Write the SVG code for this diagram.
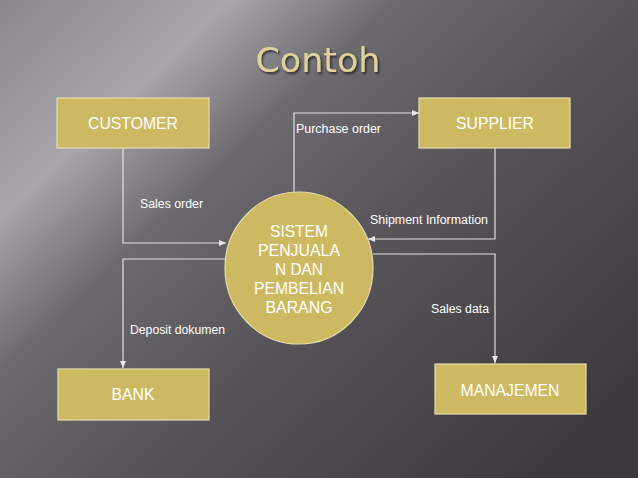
<svg xmlns="http://www.w3.org/2000/svg" width="638" height="478" viewBox="0 0 638 478">
<defs>
<linearGradient id="bg" x1="0" y1="0" x2="1" y2="0.8">
<stop offset="0" stop-color="#8a878d"/>
<stop offset="0.22" stop-color="#a8a5ab"/>
<stop offset="0.38" stop-color="#6c696f"/>
<stop offset="0.6" stop-color="#58555a"/>
<stop offset="1" stop-color="#3c3a3e"/>
</linearGradient>
<marker id="ar" markerWidth="8" markerHeight="8" refX="7" refY="4" orient="auto" markerUnits="userSpaceOnUse">
<path d="M0,1 L7,4 L0,7 z" fill="#e8e8e8"/>
</marker>
<filter id="sh"><feDropShadow dx="1.5" dy="2" stdDeviation="1.2" flood-color="#000" flood-opacity="0.6"/></filter>
</defs>
<style>
.box{fill:#cdb962;stroke:#e6dca8;stroke-width:1.2}
.nt{font-family:"Liberation Sans",Arial,sans-serif;font-size:17px;fill:#ffffff;text-anchor:middle}
.lb{font-family:"Liberation Sans",Arial,sans-serif;font-size:12px;fill:#ffffff}
.cn{fill:none;stroke:#e0e0e0;stroke-width:1.2;marker-end:url(#ar)}
</style>
<rect width="638" height="478" fill="url(#bg)"/>
<text x="318" y="72" font-family="'DejaVu Sans',sans-serif" font-size="33" fill="#ded29a" text-anchor="middle" filter="url(#sh)" textLength="125" lengthAdjust="spacingAndGlyphs">Contoh</text>
<g id="connectors">
<path class="cn" d="M123,148 V243 H226"/>
<path class="cn" d="M294,193 V113 H419"/>
<path class="cn" d="M495,148 V239 H368"/>
<path class="cn" d="M225,259 H123 V368"/>
<path class="cn" d="M373,254 H495 V363"/>
<text class="lb" x="296" y="133" textLength="85" lengthAdjust="spacingAndGlyphs">Purchase order</text>
<text class="lb" x="140" y="208" textLength="63" lengthAdjust="spacingAndGlyphs">Sales order</text>
<text class="lb" x="370" y="224" textLength="118" lengthAdjust="spacingAndGlyphs">Shipment Information</text>
<text class="lb" x="130" y="334" textLength="95" lengthAdjust="spacingAndGlyphs">Deposit dokumen</text>
<text class="lb" x="431" y="313" textLength="58" lengthAdjust="spacingAndGlyphs">Sales data</text>
</g>
<g id="customer"><rect class="box" x="57" y="98" width="152" height="50"/><text class="nt" x="133" y="129" textLength="90" lengthAdjust="spacingAndGlyphs">CUSTOMER</text></g>
<g id="supplier"><rect class="box" x="419" y="98" width="151" height="50"/><text class="nt" x="495" y="129" textLength="78" lengthAdjust="spacingAndGlyphs">SUPPLIER</text></g>
<g id="sistem"><ellipse class="box" cx="299" cy="268" rx="74" ry="76"/>
<text class="nt" x="299" y="237" textLength="58" lengthAdjust="spacingAndGlyphs">SISTEM</text><text class="nt" x="299" y="256" textLength="82" lengthAdjust="spacingAndGlyphs">PENJUALA</text><text class="nt" x="299" y="275" textLength="48" lengthAdjust="spacingAndGlyphs">N DAN</text><text class="nt" x="299" y="294" textLength="90" lengthAdjust="spacingAndGlyphs">PEMBELIAN</text><text class="nt" x="299" y="313" textLength="67" lengthAdjust="spacingAndGlyphs">BARANG</text></g>
<g id="bank"><rect class="box" x="58" y="369" width="151" height="51"/><text class="nt" x="133" y="400" textLength="43" lengthAdjust="spacingAndGlyphs">BANK</text></g>
<g id="manajemen"><rect class="box" x="435" y="364" width="151" height="50"/><text class="nt" x="510" y="396" textLength="99" lengthAdjust="spacingAndGlyphs">MANAJEMEN</text></g>
</svg>
